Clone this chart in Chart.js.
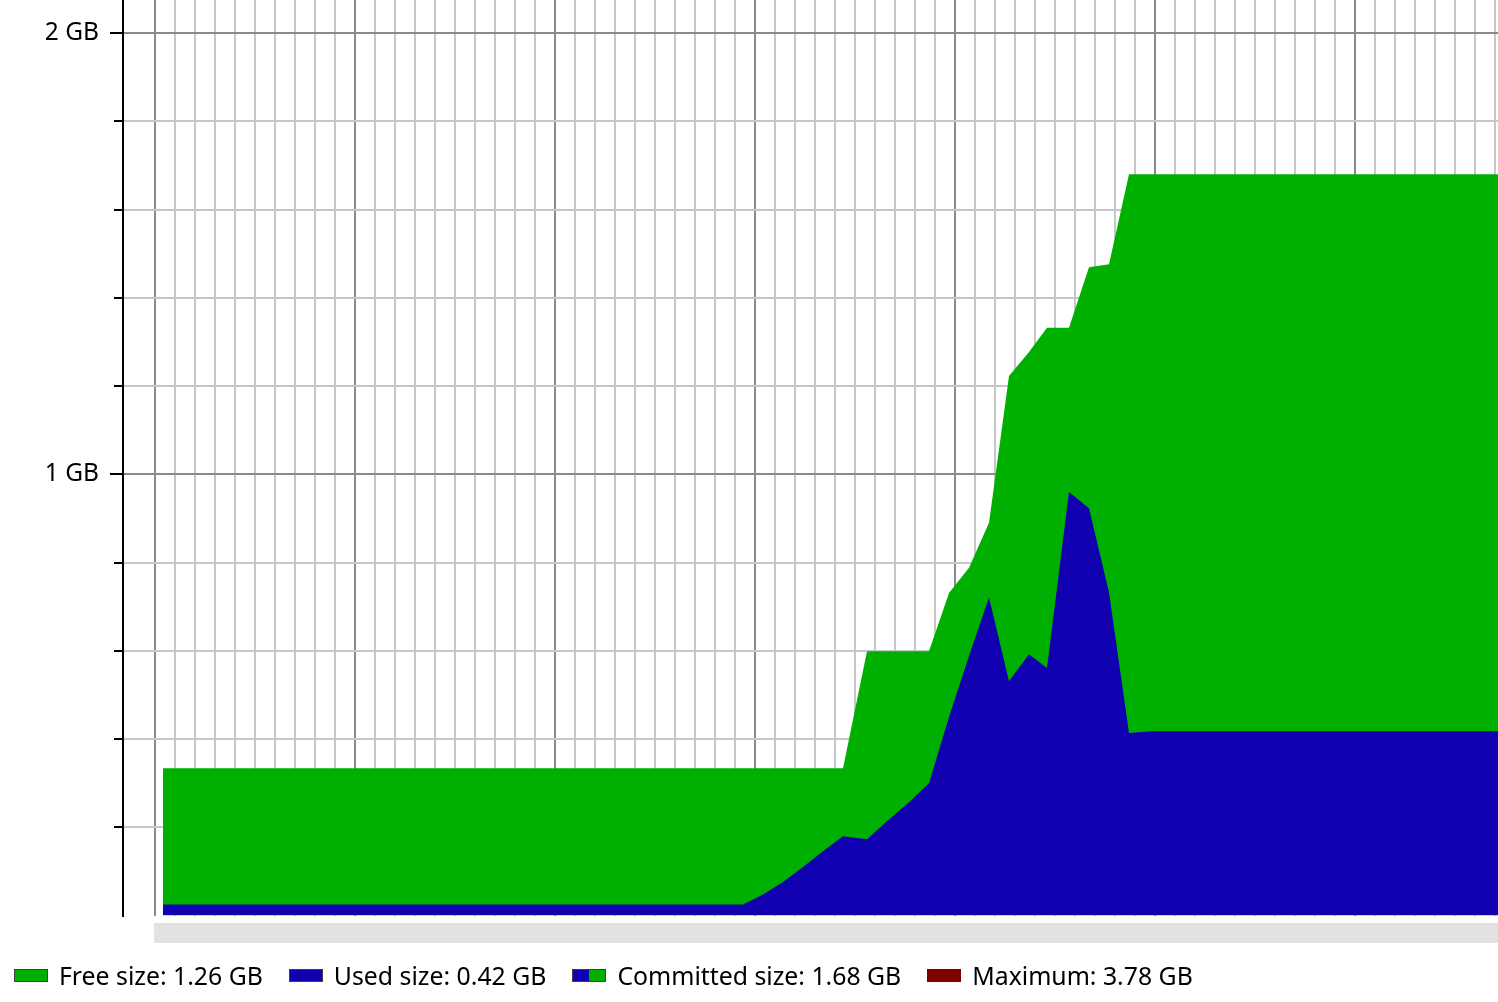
<!DOCTYPE html>
<html>
<head>
<meta charset="utf-8">
<script src="https://cdn.jsdelivr.net/npm/chart.js@4.4.1/dist/chart.umd.min.js"></script>
<style>
  html, body { margin: 0; padding: 0; background: #fff; }
  #wrap { position: relative; width: 1498px; height: 1002px; overflow: hidden; }
  #heap { position: absolute; left: 0; top: 0; }
  #scrollbar { position: absolute; left: 154px; top: 923px; width: 1344px; height: 20px; background: #e2e2e2; }
  #legend {
    position: absolute; left: 14px; top: 958px; display: flex; align-items: center;
    font-family: "Noto Sans", sans-serif; font-size: 24.8px; color: #000; white-space: nowrap;
  }
  .item { display: flex; align-items: center; margin-right: 26px; }
  .box { width: 32px; height: 11px; border: 1px solid #404040; margin-right: 11px; display: flex; }
  .box span { flex: 1; }
</style>
</head>
<body>
<div id="wrap">
  <canvas id="heap" width="1498" height="1002"></canvas>
  <div id="scrollbar"></div>
  <div id="legend"></div>
</div>
<script>
'use strict';

const times = [4, 294, 304, 314, 324, 334, 344, 356, 367, 377, 387, 397, 407, 417,
  427, 437, 446, 457, 467, 477, 487, 498, 672];
const usedGB = [0.025, 0.025, 0.048, 0.076, 0.110, 0.146, 0.180, 0.173, 0.218, 0.257,
  0.300, 0.450, 0.588, 0.721, 0.531, 0.592, 0.561, 0.960, 0.923, 0.733, 0.414, 0.418, 0.418];
const committedGB = [0.334, 0.334, 0.334, 0.334, 0.334, 0.334, 0.334, 0.599, 0.599, 0.599,
  0.599, 0.731, 0.788, 0.890, 1.223, 1.277, 1.332, 1.332, 1.469, 1.476, 1.680, 1.680, 1.680];
const maximumGB = 3.78;

const yTicks = [0.2, 0.4, 0.6, 0.8, 1, 1.2, 1.4, 1.6, 1.8, 2];
const yLabels = { 1: '1 GB', 2: '2 GB' };

const GREEN = '#00b000';
const BLUE = '#1000b0';
const RED = '#800000';

const xGrid = [];
for (let t = 0; t <= 670; t += 10) xGrid.push(t);

const pts = arr => arr.map((v, i) => ({ x: times[i], y: v }));
const isMajorY = v => Number.isInteger(Math.round(v * 10) / 10);

// short ticks for the minor steps, long ones for whole GB
const yTickMarks = {
  id: 'yTickMarks',
  afterDraw(chart) {
    const s = chart.scales.y;
    const ctx = chart.ctx;
    ctx.save();
    ctx.strokeStyle = '#000';
    ctx.lineWidth = 2;
    s.ticks.forEach(t => {
      const py = Math.round(s.getPixelForValue(t.value));
      const len = isMajorY(t.value) ? 13 : 9;
      ctx.beginPath();
      ctx.moveTo(s.right - len, py);
      ctx.lineTo(s.right, py);
      ctx.stroke();
    });
    ctx.restore();
  }
};

new Chart(document.getElementById('heap'), {
  type: 'line',
  data: {
    datasets: [
      {
        label: 'Used size',
        data: pts(usedGB),
        backgroundColor: BLUE,
        borderWidth: 0,
        pointRadius: 0,
        fill: 'origin'
      },
      {
        label: 'Committed size',
        data: pts(committedGB),
        backgroundColor: GREEN,
        borderWidth: 0,
        pointRadius: 0,
        fill: 'origin'
      }
    ]
  },
  options: {
    responsive: false,
    animation: false,
    layout: { padding: 0 },
    plugins: { legend: { display: false }, tooltip: { enabled: false } },
    scales: {
      x: {
        type: 'linear',
        min: -16,
        max: 671.5,
        afterBuildTicks: s => { s.ticks = xGrid.map(v => ({ value: v })); },
        afterFit: s => { s.height = 1002 - 915.6; s.paddingLeft = 0; s.paddingRight = 0; },
        ticks: { display: false },
        border: { display: false },
        grid: {
          drawTicks: false,
          lineWidth: 2,
          color: c => (c.tick.value % 100 === 0 ? '#8a8a8a' : '#c6c6c6')
        }
      },
      y: {
        min: 0,
        max: 915.6 / 441.3,
        afterBuildTicks: s => { s.ticks = yTicks.map(v => ({ value: v })); },
        afterFit: s => { s.width = 123; s.paddingTop = 0; s.paddingBottom = 0; },
        ticks: {
          padding: 24,
          color: '#000',
          font: { family: 'Noto Sans', size: 24.5 },
          callback: v => yLabels[Math.round(v * 10) / 10] || ''
        },
        border: { display: true, color: '#000', width: 2 },
        grid: {
          lineWidth: 2,
          drawTicks: false,
          color: c => (isMajorY(c.tick.value) ? '#8a8a8a' : '#c6c6c6')
        }
      }
    }
  },
  plugins: [yTickMarks]
});

// legend with the latest values
const last = a => a[a.length - 1];
const items = [
  { text: 'Free size: ' + (last(committedGB) - last(usedGB)).toFixed(2) + ' GB', colors: [GREEN] },
  { text: 'Used size: ' + last(usedGB).toFixed(2) + ' GB', colors: [BLUE] },
  { text: 'Committed size: ' + last(committedGB).toFixed(2) + ' GB', colors: [BLUE, GREEN] },
  { text: 'Maximum: ' + maximumGB.toFixed(2) + ' GB', colors: [RED] }
];
const legend = document.getElementById('legend');
items.forEach(it => {
  const el = document.createElement('div');
  el.className = 'item';
  const box = document.createElement('div');
  box.className = 'box';
  if (it.colors[0] === RED) box.style.borderColor = RED;
  it.colors.forEach(c => {
    const s = document.createElement('span');
    s.style.background = c;
    box.appendChild(s);
  });
  const label = document.createElement('span');
  label.textContent = it.text;
  el.appendChild(box);
  el.appendChild(label);
  legend.appendChild(el);
});
</script>
</body>
</html>
